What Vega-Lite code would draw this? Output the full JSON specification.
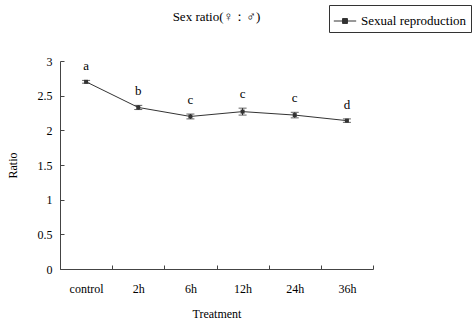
{
  "$schema": "https://vega.github.io/schema/vega-lite/v6.json",
  "width": 313,
  "height": 208,
  "autosize": {"type": "none"},
  "padding": {"left": 60, "top": 61, "right": 101, "bottom": 55},
  "background": "white",
  "config": {"font": "Liberation Serif", "view": {"stroke": null}},
  "title": {"text": "Sex ratio(♀：♂)", "font": "Liberation Serif", "fontSize": 13, "fontWeight": "normal", "color": "#000", "offset": 0, "dy": 19, "anchor": "middle"},
  "data": {"values": [
    {"treatment": "control", "ratio": 2.70, "err": 0.02, "letter": "a", "series": "Sexual reproduction"},
    {"treatment": "2h", "ratio": 2.33, "err": 0.03, "letter": "b", "series": "Sexual reproduction"},
    {"treatment": "6h", "ratio": 2.20, "err": 0.035, "letter": "c", "series": "Sexual reproduction"},
    {"treatment": "12h", "ratio": 2.27, "err": 0.05, "letter": "c", "series": "Sexual reproduction"},
    {"treatment": "24h", "ratio": 2.22, "err": 0.04, "letter": "c", "series": "Sexual reproduction"},
    {"treatment": "36h", "ratio": 2.14, "err": 0.025, "letter": "d", "series": "Sexual reproduction"}
  ]},
  "transform": [
    {"calculate": "datum.ratio - datum.err", "as": "lo"},
    {"calculate": "datum.ratio + datum.err", "as": "hi"}
  ],
  "encoding": {
    "x": {"field": "treatment", "type": "nominal", "sort": null,
      "scale": {"paddingInner": 0, "paddingOuter": 0},
      "axis": {"title": "Treatment", "labelAngle": 0, "tickBand": "extent", "tickSize": -4, "labelPadding": 18,
        "labelFont": "Liberation Serif", "labelFontSize": 12, "labelColor": "#000",
        "titleFont": "Liberation Serif", "titleFontSize": 12, "titleFontWeight": "normal", "titleColor": "#000", "titlePadding": 14,
        "domainColor": "#444", "tickColor": "#444", "grid": false}},
    "y": {"type": "quantitative",
      "scale": {"domain": [0, 3]},
      "axis": {"title": "Ratio", "values": [0, 0.5, 1, 1.5, 2, 2.5, 3], "format": "~g", "tickSize": -4, "labelPadding": 12,
        "labelFont": "Liberation Serif", "labelFontSize": 12, "labelColor": "#000",
        "titleFont": "Liberation Serif", "titleFontSize": 12, "titleFontWeight": "normal", "titleColor": "#000", "titlePadding": 18,
        "domainColor": "#444", "tickColor": "#444", "grid": false}}
  },
  "layer": [
    {
      "mark": {"type": "rule", "color": "#222", "strokeWidth": 1},
      "encoding": {"y": {"field": "lo"}, "y2": {"field": "hi"}}
    },
    {
      "mark": {"type": "tick", "color": "#222", "thickness": 1, "size": 8},
      "encoding": {"y": {"field": "lo"}}
    },
    {
      "mark": {"type": "tick", "color": "#222", "thickness": 1, "size": 8},
      "encoding": {"y": {"field": "hi"}}
    },
    {
      "mark": {"type": "line", "strokeWidth": 1, "point": {"shape": "square", "size": 16, "filled": true, "color": "#111"}},
      "encoding": {
        "y": {"field": "ratio"},
        "color": {"field": "series", "type": "nominal", "scale": {"range": ["#333"]},
          "legend": {"title": null, "orient": "none", "legendX": 269, "legendY": -56,
            "strokeColor": "#333", "padding": 4, "fillColor": "white",
            "symbolType": "M-1,0H1M-0.22,-0.22H0.22V0.22H-0.22Z", "symbolSize": 500, "symbolStrokeWidth": 1,
            "symbolFillColor": "#111", "symbolStrokeColor": "#111",
            "labelFont": "Liberation Serif", "labelFontSize": 13, "labelColor": "#000", "labelLimit": 200}}
      }
    },
    {
      "mark": {"type": "text", "font": "Liberation Serif", "fontSize": 13, "color": "#000", "baseline": "bottom", "dy": -7},
      "encoding": {"y": {"field": "hi"}, "text": {"field": "letter"}}
    }
  ]
}
